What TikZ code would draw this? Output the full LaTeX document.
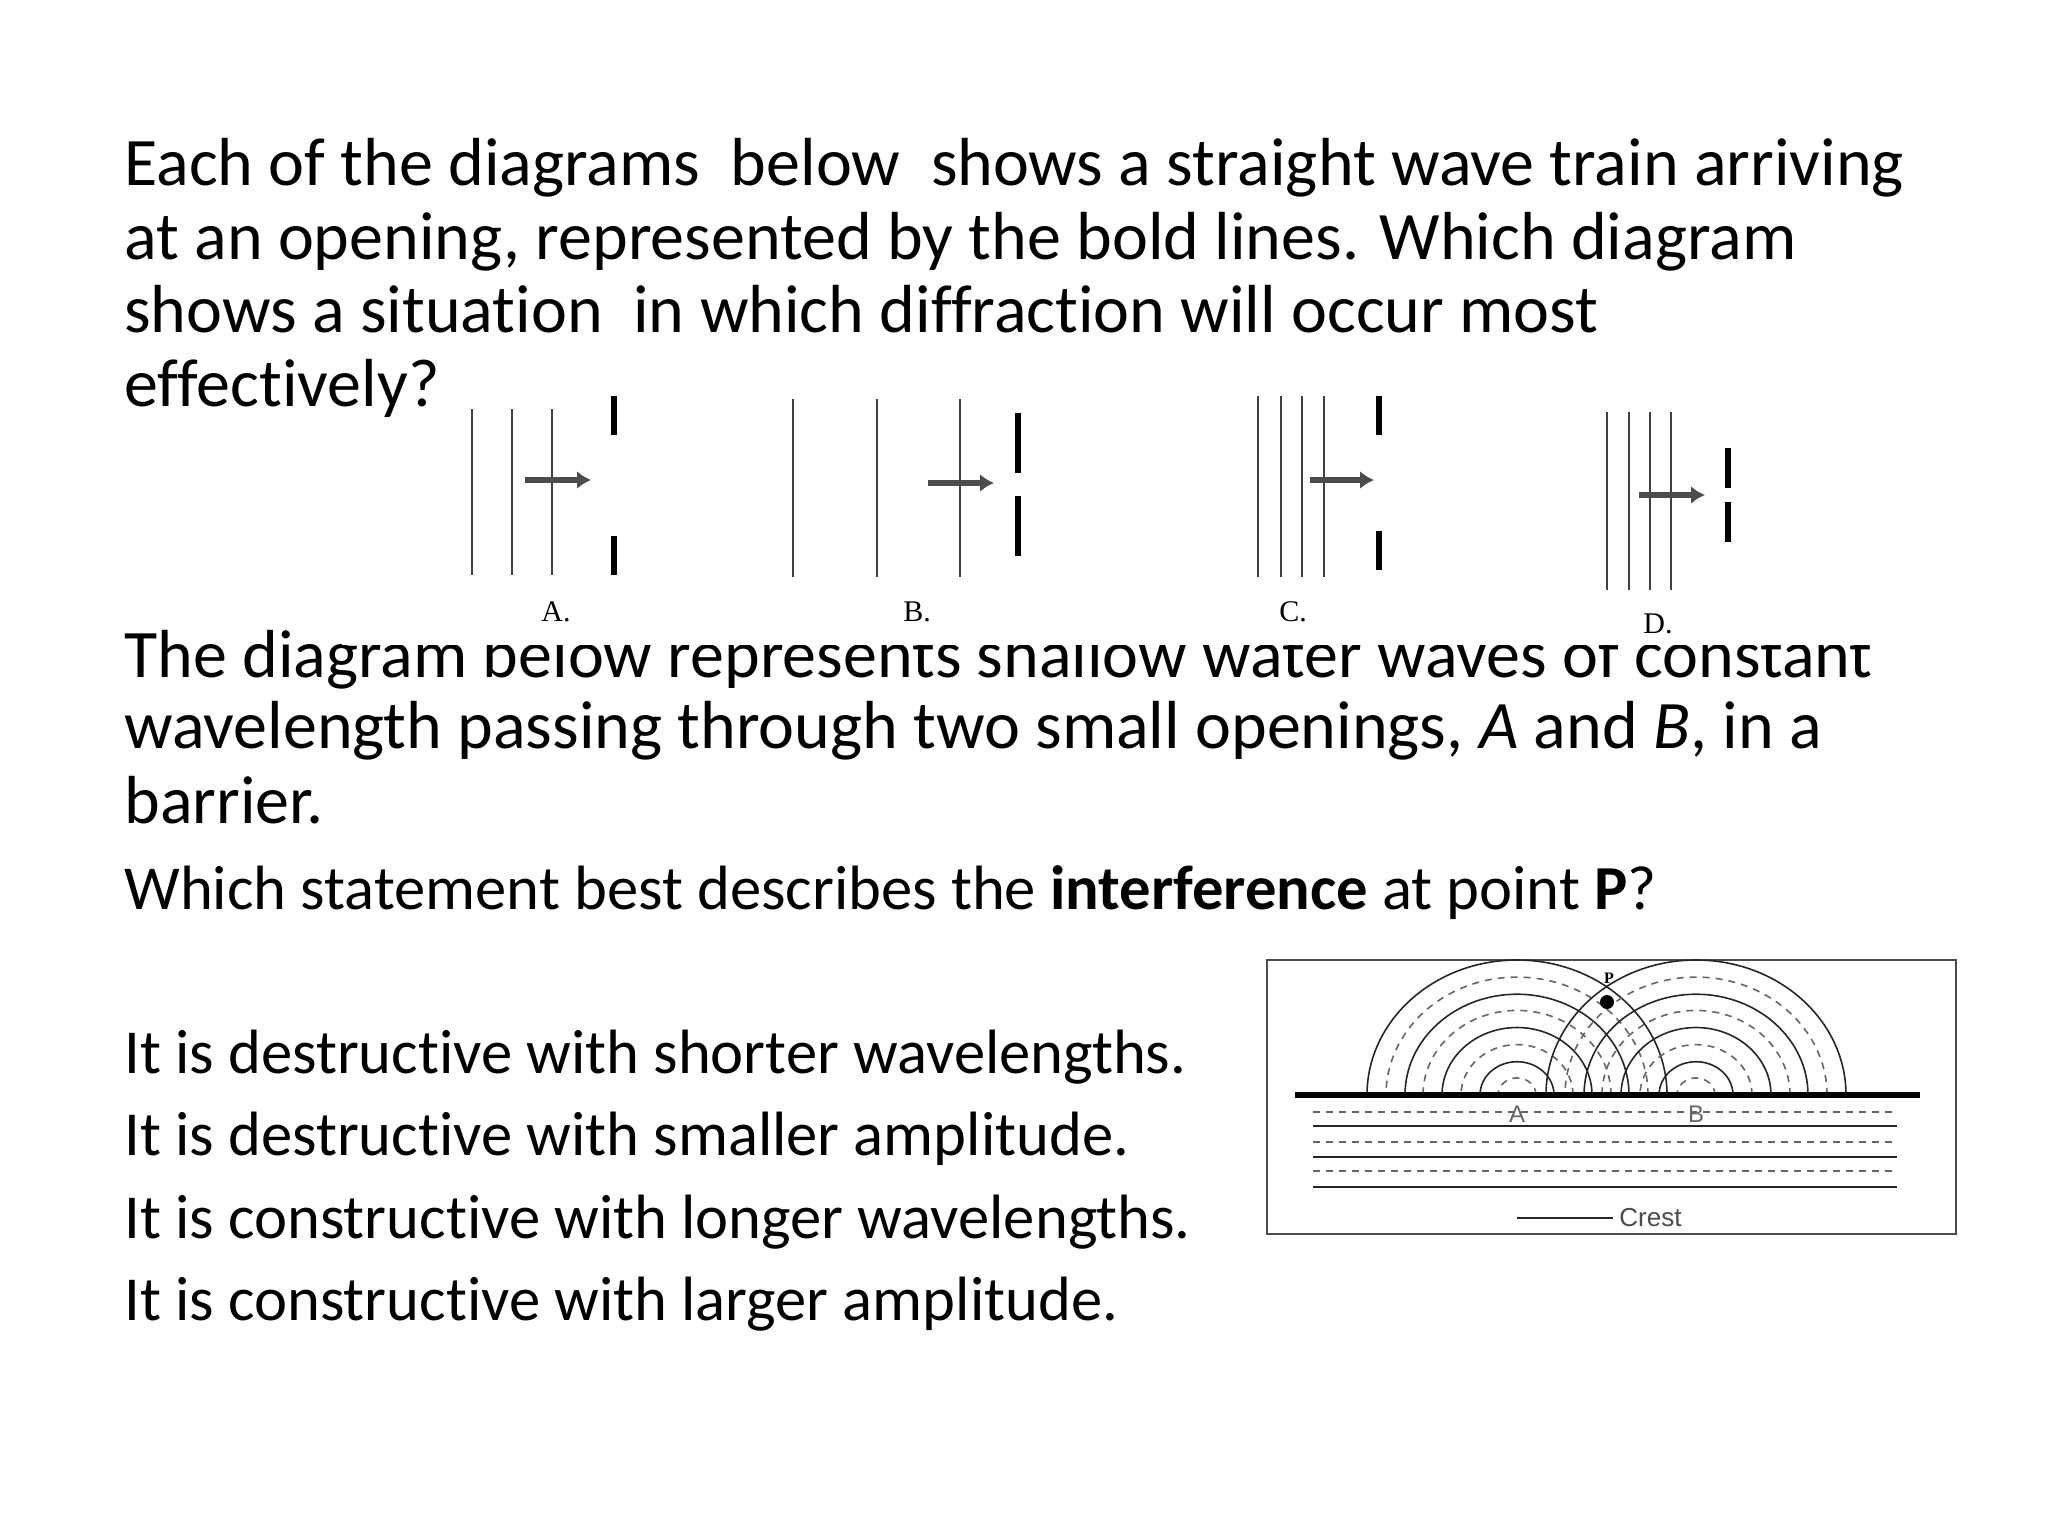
\documentclass[tikz,border=0pt]{standalone}
\usepackage{fontspec}
\usetikzlibrary{arrows.meta}
\setmainfont{Carlito}[Ligatures=NoCommon]
\newfontfamily\serifcond{Liberation Serif}
\newfontfamily\lab{Liberation Sans}
\begin{document}
\begin{tikzpicture}[x=0.5pt,y=-0.5pt,
  txt/.style={anchor=base west,inner sep=0pt,font=\fontsize{34}{40}\selectfont},
  txts/.style={anchor=base west,inner sep=0pt,font=\fontsize{31.3}{37}\selectfont},
  wave/.style={line width=0.8pt,black!75},
  bar/.style={line width=2.8pt,black},
  arr/.style={line width=2.6pt,black!70,-{Latex[length=7pt,width=9pt]}},
  lbl/.style={font=\serifcond\fontsize{15}{15}\selectfont,inner sep=0pt},
  crest/.style={line width=0.8pt,black!85},
  trough/.style={line width=0.8pt,black!60,dash pattern=on 3.5pt off 3pt}]
\useasboundingbox (0,0) rectangle (2048,1536);
\fill[white] (0,0) rectangle (2048,1536);
% question 1
\node[txt] (q1a) at (124,185) {Each of the diagrams\ \ below\ \ shows a straight wave train arriving};
\node[txt] (q1b) at (124,259) {at an opening, represented by the bold lines. Which diagram};
\node[txt] (q1c) at (124,332) {shows a situation\ \ in which diffraction will occur most};
\node[txt] (q1d) at (124,406) {effectively?};
% question 2
\node[txt] (q2a) at (124,677) {The diagram below represents shallow water waves of constant};
\node[txt] (q2b) at (124,748) {wavelength passing through two small openings, \textit{A} and \textit{B}, in a};
\node[txt] (q2c) at (124,823) {barrier.};
\node[txts] (q2d) at (124,909) {Which statement best describes the \textbf{interference} at point \textbf{P}?};
\node[txts] (ans1) at (124,1073) {It is destructive with shorter wavelengths.};
\node[txts] (ans2) at (124,1155) {It is destructive with smaller amplitude.};
\node[txts] (ans3) at (124,1238) {It is constructive with longer wavelengths.};
\node[txts] (ans4) at (124,1320) {It is constructive with larger amplitude.};
% white patch of the pasted picture
\fill[white] (342,418) rectangle (1890,645);
% diagram A
\foreach \x in {472,512,552} \draw[wave] (\x,409) -- (\x,575);
\draw[bar] (614,396) -- (614,435) (614,536) -- (614,575);
\coordinate (a0) at (525,480); \coordinate (a1) at (591,480);
\draw[arr] (a0) -- (a1);
\node[lbl] (la) at (556,612) {A.};
% diagram B
\foreach \x in {793,877,960} \draw[wave] (\x,399) -- (\x,577);
\draw[bar] (1018,413) -- (1018,473) (1018,496) -- (1018,556);
\coordinate (b0) at (928,483); \coordinate (b1) at (994,483);
\draw[arr] (b0) -- (b1);
\node[lbl] (lb) at (917,612) {B.};
% diagram C
\foreach \x in {1258,1281,1302,1324} \draw[wave] (\x,396) -- (\x,577);
\draw[bar] (1379,396) -- (1379,435) (1379,531) -- (1379,570);
\coordinate (c0) at (1310,480); \coordinate (c1) at (1374,480);
\draw[arr] (c0) -- (c1);
\node[lbl] (lc) at (1293,612) {C.};
% diagram D
\foreach \x in {1607,1629,1650,1671} \draw[wave] (\x,412) -- (\x,590);
\draw[bar] (1728,448) -- (1728,488) (1728,502) -- (1728,542);
\coordinate (d0) at (1639,495); \coordinate (d1) at (1705,495);
\draw[arr] (d0) -- (d1);
\node[lbl] (ld) at (1658,624) {D.};
% interference diagram
\draw[line width=1.2pt,black!70] (1267,960) rectangle (1956,1234);
\foreach \c in {1517,1696}{
  \foreach \r in {37,75,112,150}
    \draw[crest] (\c+\r,1095) arc[start angle=0,end angle=180,x radius={\r*0.5pt},y radius={\r*0.45pt}];
  \foreach \r in {19,56,94,131}
    \draw[trough] (\c+\r,1095) arc[start angle=0,end angle=180,x radius={\r*0.5pt},y radius={\r*0.45pt}];
}
\draw[line width=3.2pt,black] (1295,1095) -- (1920,1095);
\foreach \y in {1126,1157,1187} \draw[crest] (1313,\y) -- (1897,\y);
\foreach \y in {1112,1142,1171} \draw[trough] (1313,\y) -- (1897,\y);
\node[font=\lab\fontsize{12}{12}\selectfont,text=black!60,inner sep=0.5pt] (ptA) at (1517,1114) {A};
\node[font=\lab\fontsize{12}{12}\selectfont,text=black!60,inner sep=0.5pt] (ptB) at (1696,1114) {B};
\node[circle,fill=black,inner sep=0pt,minimum size=7pt] (P) at (1607,1002) {};
\node[font=\serifcond\bfseries\fontsize{8}{8}\selectfont,inner sep=0pt] (Pl) at (1609,978) {P};
\node[font=\lab\fontsize{13}{13}\selectfont,text=black!70,anchor=west,inner sep=0pt] (cr) at (1619,1218) {Crest};
\coordinate (cl) at (1517,1218);
\draw[crest] (cl) -- ([xshift=-3pt]cr.west);
\end{tikzpicture}
\end{document}
